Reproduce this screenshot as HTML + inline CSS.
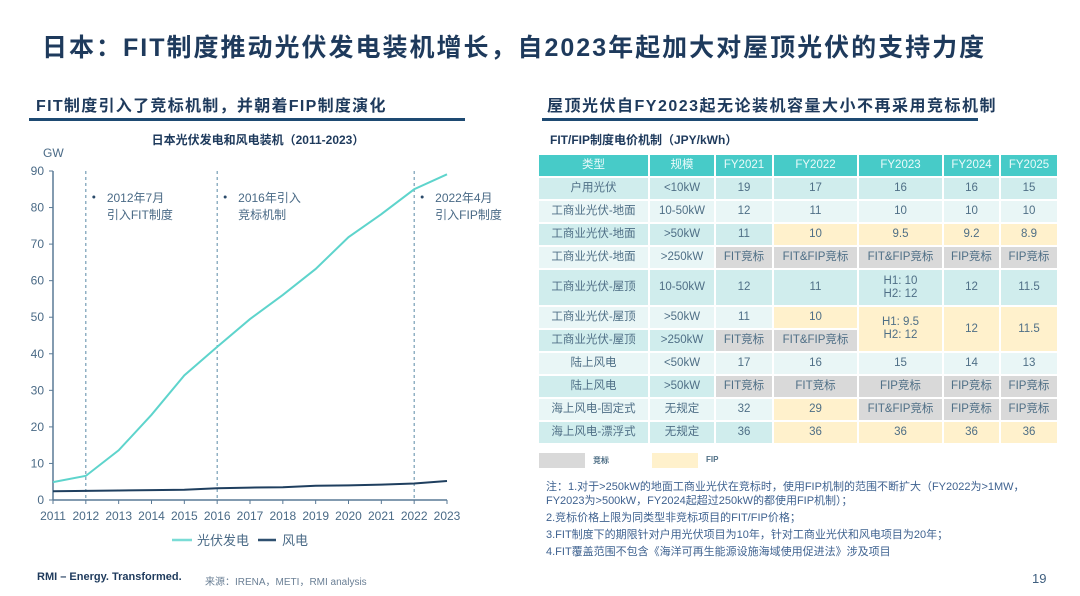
<!DOCTYPE html>
<html><head><meta charset="utf-8">
<style>
body{margin:0;background:#fff;}
#page{position:relative;width:1080px;height:596px;overflow:hidden;font-family:"Liberation Sans","Noto Sans CJK SC",sans-serif;}
.abs{position:absolute;white-space:nowrap;}
#tbl{position:absolute;left:537px;top:153px;border-collapse:separate;border-spacing:2px;table-layout:fixed;font-size:11.5px;color:#4f6f86;text-align:center;}
#tbl td{padding:0;height:21px;line-height:13px;}
#tbl tr.h td{background:#47cbc8;color:#eafafa;}
.d td{background:#d0eded;}
.l td{background:#e9f6f6;}
#tbl td.g{background:#d9d9d9;}
#tbl td.y{background:#fff1cc;}
</style></head><body>
<div id="page">
<div class="abs" style="left:42px;top:28px;font-size:25px;letter-spacing:2px;font-weight:bold;color:#1e3a5c;">日本：FIT制度推动光伏发电装机增长，自2023年起加大对屋顶光伏的支持力度</div>
<div class="abs" style="left:36px;top:92px;font-size:16px;letter-spacing:1.3px;font-weight:bold;color:#1e3a5c;">FIT制度引入了竞标机制，并朝着FIP制度演化</div>
<div class="abs" style="left:29px;top:118px;width:436px;height:3px;background:#1e4a72;"></div>
<div class="abs" style="left:547px;top:92px;font-size:16px;letter-spacing:1.5px;font-weight:bold;color:#1e3a5c;">屋顶光伏自FY2023起无论装机容量大小不再采用竞标机制</div>
<div class="abs" style="left:542px;top:118px;width:436px;height:3px;background:#1e4a72;"></div>

<svg class="abs" style="left:0;top:0" width="530" height="560">
<g id="chart"></g>
</svg>

<div class="abs" style="left:550px;top:131px;font-size:12px;font-weight:bold;color:#1e3a5c;">FIT/FIP制度电价机制（JPY/kWh）</div>
<table id="tbl">
<colgroup><col style="width:109px"><col style="width:64px"><col style="width:56px"><col style="width:83px"><col style="width:83px"><col style="width:55px"><col style="width:56px"></colgroup>
<tr class="h"><td>类型</td><td>规模</td><td>FY2021</td><td>FY2022</td><td>FY2023</td><td>FY2024</td><td>FY2025</td></tr>
<tr class="d"><td>户用光伏</td><td>&lt;10kW</td><td>19</td><td>17</td><td>16</td><td>16</td><td>15</td></tr>
<tr class="l"><td>工商业光伏-地面</td><td>10-50kW</td><td>12</td><td>11</td><td>10</td><td>10</td><td>10</td></tr>
<tr class="d"><td>工商业光伏-地面</td><td>&gt;50kW</td><td>11</td><td class="y">10</td><td class="y">9.5</td><td class="y">9.2</td><td class="y">8.9</td></tr>
<tr class="l"><td>工商业光伏-地面</td><td>&gt;250kW</td><td class="g">FIT竞标</td><td class="g">FIT&amp;FIP竞标</td><td class="g">FIT&amp;FIP竞标</td><td class="g">FIP竞标</td><td class="g">FIP竞标</td></tr>
<tr class="d"><td style="height:35px">工商业光伏-屋顶</td><td>10-50kW</td><td>12</td><td>11</td><td>H1: 10<br>H2: 12</td><td>12</td><td>11.5</td></tr>
<tr class="l"><td>工商业光伏-屋顶</td><td>&gt;50kW</td><td>11</td><td class="y">10</td><td class="y" rowspan="2">H1: 9.5<br>H2: 12</td><td class="y" rowspan="2">12</td><td class="y" rowspan="2">11.5</td></tr>
<tr class="d"><td>工商业光伏-屋顶</td><td>&gt;250kW</td><td class="g">FIT竞标</td><td class="g">FIT&amp;FIP竞标</td></tr>
<tr class="l"><td>陆上风电</td><td>&lt;50kW</td><td>17</td><td>16</td><td>15</td><td>14</td><td>13</td></tr>
<tr class="d"><td>陆上风电</td><td>&gt;50kW</td><td class="g">FIT竞标</td><td class="g">FIT竞标</td><td class="g">FIP竞标</td><td class="g">FIP竞标</td><td class="g">FIP竞标</td></tr>
<tr class="l"><td>海上风电-固定式</td><td>无规定</td><td>32</td><td class="y">29</td><td class="g">FIT&amp;FIP竞标</td><td class="g">FIP竞标</td><td class="g">FIP竞标</td></tr>
<tr class="d"><td>海上风电-漂浮式</td><td>无规定</td><td>36</td><td class="y">36</td><td class="y">36</td><td class="y">36</td><td class="y">36</td></tr>
</table>
<div class="abs" style="left:539px;top:453px;width:46px;height:15px;background:#d9d9d9;"></div>
<div class="abs" style="left:593px;top:455px;font-size:8px;font-weight:bold;color:#4f6f86;">竞标</div>
<div class="abs" style="left:652px;top:453px;width:46px;height:15px;background:#fff1cc;"></div>
<div class="abs" style="left:706px;top:455px;font-size:8px;font-weight:bold;color:#4f6f86;">FIP</div>

<div class="abs" style="left:546px;top:479px;font-size:11px;line-height:17px;color:#3f6290;white-space:normal;width:534px;">
<div>注：1.对于&gt;250kW的地面工商业光伏在竞标时，使用FIP机制的范围不断扩大（FY2022为&gt;1MW，</div>
<div style="margin-top:-3px">FY2023为&gt;500kW，FY2024起超过250kW的都使用FIP机制）；</div>
<div>2.竞标价格上限为同类型非竞标项目的FIT/FIP价格；</div>
<div>3.FIT制度下的期限针对户用光伏项目为10年，针对工商业光伏和风电项目为20年；</div>
<div>4.FIT覆盖范围不包含《海洋可再生能源设施海域使用促进法》涉及项目</div>
</div>
<div class="abs" style="left:1032px;top:571px;font-size:13px;color:#3f5f7f;">19</div>
<div class="abs" style="left:37px;top:571px;font-size:11px;font-weight:bold;color:#1e3a5c;">RMI – Energy. Transformed.</div>
<div class="abs" style="left:205px;top:573px;font-size:10px;color:#6a7f95;">来源：IRENA，METI，RMI analysis</div>
</div>
<script>
const years=[2011,2012,2013,2014,2015,2016,2017,2018,2019,2020,2021,2022,2023];
const pvValues=[4.9,6.6,13.6,23.3,34.1,41.9,49.5,56.1,63.2,71.9,78.2,85.0,89.1];
const windValues=[2.4,2.5,2.6,2.7,2.8,3.2,3.4,3.5,3.9,4.0,4.2,4.5,5.2];
const yTicks=[0,10,20,30,40,50,60,70,80,90];
const policyYears=[2012,2016,2022];
const policyLabels=[["2012年7月","引入FIT制度"],["2016年引入","竞标机制"],["2022年4月","引入FIP制度"]];
const NS="http://www.w3.org/2000/svg";
const g=document.getElementById('chart');
const X0=53,X1=447,Y0=500,Y1=171;
const xs=y=>X0+(y-years[0])/(years[years.length-1]-years[0])*(X1-X0);
const ys=v=>Y0-v/90*(Y0-Y1);
function mk(t,a,txt){const e=document.createElementNS(NS,t);for(const k in a)e.setAttribute(k,a[k]);if(txt!==undefined)e.textContent=txt;g.appendChild(e);return e;}
const ax="#5a7a96",tc="#4a6a86";
let e=mk('text',{x:258,y:144,'text-anchor':'middle','font-size':12,'font-weight':'bold',fill:'#1e3a5c'},'日本光伏发电和风电装机（2011-2023）');


e=mk('text',{x:43,y:157,'font-size':12,fill:tc},'GW');


yTicks.forEach(v=>{
 const t=mk('text',{x:44,y:ys(v)+4,'text-anchor':'end','font-size':12,fill:tc},String(v));
 
 
 mk('line',{x1:49,x2:53,y1:ys(v),y2:ys(v),stroke:ax,'stroke-width':1});
});
e=mk('line',{x1:X0,x2:X0,y1:Y1,y2:Y0,stroke:ax,'stroke-width':1.5});


e=mk('line',{x1:X0,x2:X1,y1:Y0,y2:Y0,stroke:ax,'stroke-width':1.5});


years.forEach(y=>{
 mk('line',{x1:xs(y),x2:xs(y),y1:Y0,y2:Y0+4,stroke:ax,'stroke-width':1});
 const t=mk('text',{x:xs(y),y:520,'text-anchor':'middle','font-size':12,fill:tc},String(y));
 
 
});
policyYears.forEach((y,i)=>{
 const l=mk('line',{x1:xs(y),x2:xs(y),y1:Y1,y2:Y0,stroke:'#5a8aa6','stroke-width':1,'stroke-dasharray':'3,3'});
 
 
 const bx=xs(y)+8;
 mk('circle',{cx:bx,cy:197,r:1.5,fill:'#2a4a6a'});
 const t1=mk('text',{x:bx+13,y:202,'font-size':12,fill:tc},policyLabels[i][0]);
 
 
 const t2=mk('text',{x:bx+13,y:219,'font-size':12,fill:tc},policyLabels[i][1]);
 
 
});
const pts=a=>a.map((v,i)=>xs(years[i])+','+ys(v)).join(' ');
e=mk('polyline',{points:pts(windValues),fill:'none',stroke:'#1f3f5f','stroke-width':2});


e=mk('polyline',{points:pts(pvValues),fill:'none',stroke:'#5ed4cc','stroke-width':2});


mk('line',{x1:172,x2:192,y1:540,y2:540,stroke:'#7adcd6','stroke-width':2.5});
e=mk('text',{x:197,y:545,'font-size':13,fill:tc},'光伏发电');


mk('line',{x1:258,x2:276,y1:540,y2:540,stroke:'#2f5070','stroke-width':2.5});
e=mk('text',{x:282,y:545,'font-size':13,fill:tc},'风电');


</script>
</body></html>
